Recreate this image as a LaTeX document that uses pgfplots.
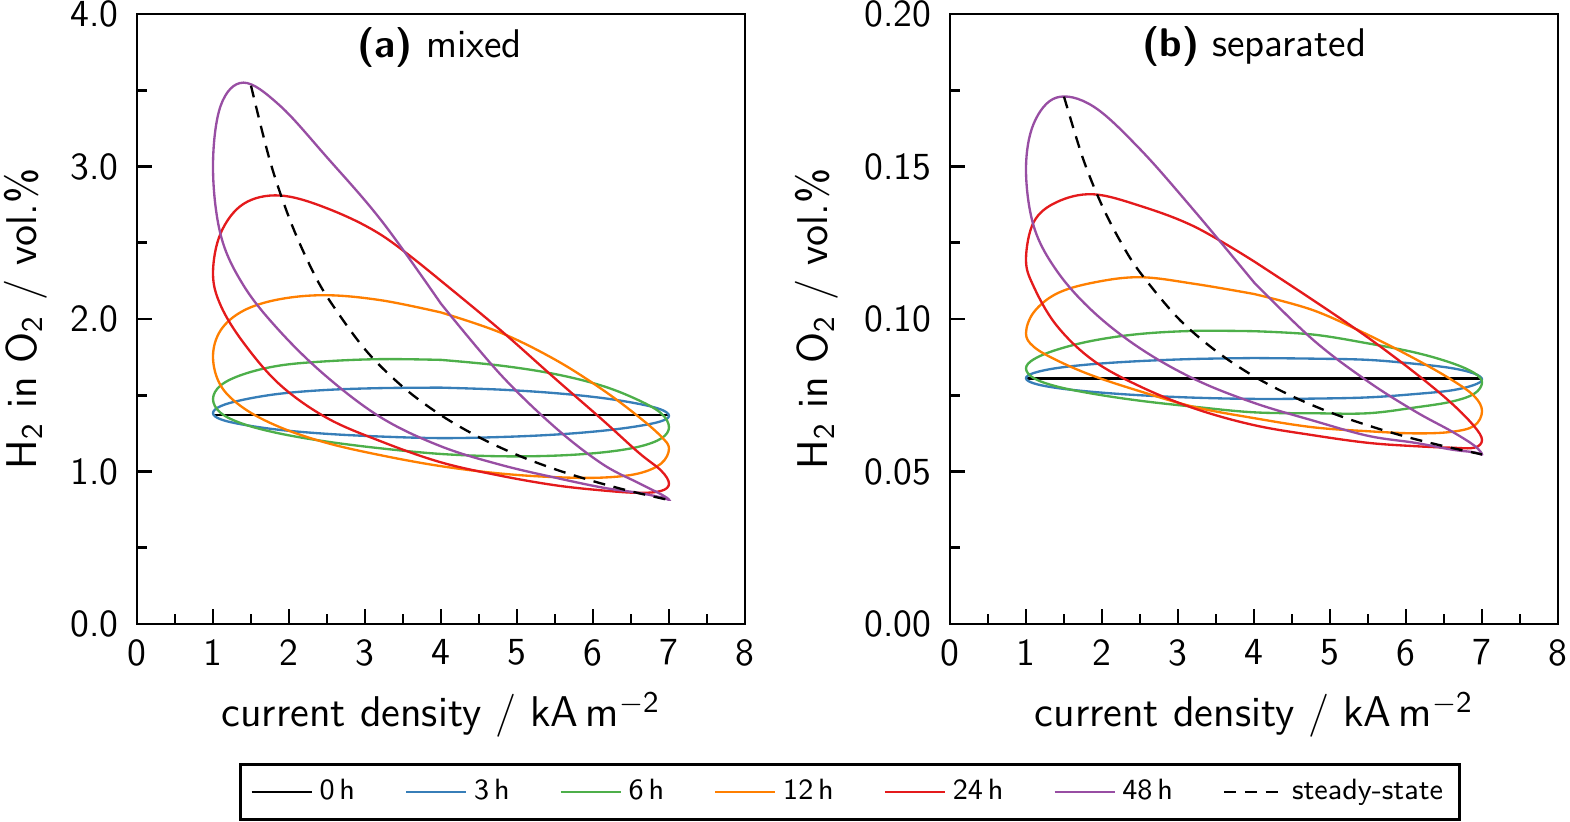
\documentclass[border=0pt]{standalone}
\usepackage{fontspec}
\usepackage{pgfplots}
\pgfplotsset{compat=1.18}
\renewcommand{\familydefault}{\sfdefault}
\definecolor{cblue}{HTML}{377EB8}
\definecolor{cgreen}{HTML}{4DAF4A}
\definecolor{corange}{HTML}{FF7F00}
\definecolor{cred}{HTML}{E41A1C}
\definecolor{cpurple}{HTML}{984EA3}
\pgfplotsset{
  panel/.style={
    scale only axis, width=182.4pt, height=183pt,
    xmin=0, xmax=8, xtick={0,1,...,8}, minor x tick num=1, minor y tick num=1,
    tick align=inside, tick pos=left,
    major tick length=4.5pt, minor tick length=3pt,
    every tick/.append style={black, line width=0.8pt},
    axis line style={line width=0.8pt},
    tick label style={font=\fontsize{11.5}{13}\selectfont},
    xticklabel style={yshift=-1pt},
    yticklabel style={xshift=-2pt},
    /pgf/number format/assume math mode=true,
    scaled y ticks=false,
    label style={font=\fontsize{12.9}{15}\selectfont},
    xlabel={current density / kA\,m\textsuperscript{$-$2}},
    xlabel style={at={(axis description cs:0.5,-0.1684)}, anchor=base},
    ylabel={H\textsubscript{2} in O\textsubscript{2} / vol.\%},
  },
  ln/.style={line width=0.7pt, tension=0.6},
  ss/.style={black, line width=0.7pt, smooth, tension=0.55, dash pattern=on 3.6pt off 2.6pt},
}
\begin{document}
\begin{tikzpicture}
\path[use as bounding box] (-41.1pt,-59.1pt) rectangle (429.9pt,187.2pt);
% ---------------- panel (a) ----------------
\begin{axis}[panel, ymin=0, ymax=4, ytick={0,1,2,3,4},
  yticklabel style={/pgf/number format/.cd,fixed,fixed zerofill,precision=1},
  ylabel style={at={(axis description cs:-0.166,0.5)}, anchor=base},
  legend columns=7,
  legend style={at={(1.173,-0.2279)}, anchor=north, draw=black, line width=0.8pt,
    font=\fontsize{8.8}{10}\selectfont, inner xsep=3pt, inner ysep=2.5pt,
    /tikz/every even column/.append style={column sep=13pt}},
  legend image code/.code={\draw[#1] (0pt,0pt) -- (18pt,0pt);},
]
\addplot[black, ln] coordinates {(1,1.37) (7,1.37)};
\addlegendentry{0\,h}
\addplot[cblue, ln, smooth] coordinates {(4,1.550) (4.776,1.537) (5.5,1.514) (6.121,1.482) (6.598,1.444) (6.898,1.406) (7,1.365) (6.898,1.330) (6.598,1.298) (6.121,1.267) (5.5,1.242) (4.776,1.226) (4,1.219) (3.224,1.229) (2.5,1.247) (1.879,1.273) (1.402,1.307) (1.102,1.342) (1,1.383) (1.102,1.429) (1.402,1.471) (1.879,1.510) (2.5,1.535) (3.224,1.547) (4,1.550)};
\addlegendentry{3\,h}
\addplot[cgreen, ln, smooth] coordinates {(4,1.732) (4.776,1.695) (5.5,1.639) (6.121,1.562) (6.598,1.468) (6.898,1.381) (7,1.29) (6.898,1.217) (6.598,1.162) (6.121,1.125) (5.5,1.104) (4.776,1.100) (4,1.115) (3.224,1.151) (2.5,1.196) (1.879,1.249) (1.402,1.311) (1.102,1.384) (1,1.475) (1.102,1.565) (1.402,1.638) (1.879,1.695) (2.5,1.723) (3.224,1.737) (4,1.732)};
\addlegendentry{6\,h}
\addplot[corange, ln, smooth] coordinates {(4,2.043) (4.776,1.912) (5.5,1.734) (6.121,1.538) (6.598,1.360) (6.898,1.229) (7,1.15) (6.898,1.053) (6.598,0.987) (6.121,0.960) (5.5,0.963) (4.776,0.987) (4,1.035) (3.224,1.105) (2.5,1.187) (1.879,1.291) (1.402,1.416) (1.102,1.563) (1,1.753) (1.102,1.927) (1.402,2.055) (1.879,2.13) (2.5,2.156) (3.224,2.122) (4,2.043)};
\addlegendentry{12\,h}
\addplot[cred, ln, smooth] coordinates {(4,2.25) (4.776,1.93) (5.5,1.61) (6.121,1.34) (6.598,1.125) (6.898,1.005) (7,0.92) (6.898,0.873) (6.598,0.86) (6.121,0.876) (5.5,0.91) (4.776,0.973) (4,1.06) (3.224,1.195) (2.5,1.351) (1.879,1.57) (1.402,1.844) (1.102,2.088) (1,2.30) (1.102,2.564) (1.402,2.755) (1.879,2.81) (2.5,2.726) (3.224,2.548) (4,2.25)};
\addlegendentry{24\,h}
\addplot[cpurple, ln, smooth] coordinates {(4,2.10) (4.776,1.64) (5.5,1.29) (6.121,1.05) (6.598,0.925) (6.898,0.85) (7,0.815) (6.898,0.83) (6.598,0.86) (6.121,0.895) (5.5,0.96) (4.776,1.045) (4,1.165) (3.224,1.35) (2.5,1.62) (1.879,1.92) (1.402,2.22) (1.102,2.55) (1,3.0) (1.102,3.40) (1.402,3.55) (1.879,3.40) (2.5,3.06) (3.224,2.64) (4,2.10)};
\addlegendentry{48\,h}
\addplot[ss] coordinates {(1.5,3.530) (1.75,3.036) (2,2.666) (2.25,2.377) (2.5,2.147) (3,1.801) (3.5,1.554) (4,1.369) (4.5,1.225) (5,1.109) (5.5,1.015) (6,0.937) (6.5,0.870) (7,0.813)};
\addlegendentry{steady-state}
\node[anchor=base, font=\fontsize{12}{14}\selectfont] at (axis description cs:0.498,0.9295) {\textbf{(a)} mixed};
\end{axis}
% ---------------- panel (b) ----------------
\begin{axis}[panel, at={(243.9pt,0pt)}, ymin=0, ymax=0.2, ytick={0,0.05,0.1,0.15,0.2},
  yticklabel style={/pgf/number format/.cd,fixed,fixed zerofill,precision=2},
  ylabel style={at={(axis description cs:-0.2007,0.5)}, anchor=base},
]
\addplot[black, ln] coordinates {(1,0.0805) (7,0.0805)};
\addplot[cblue, ln, smooth] coordinates {(4,0.0872) (4.776,0.0870) (5.5,0.0866) (6.121,0.0853) (6.598,0.0839) (6.898,0.0821) (7,0.0802) (6.898,0.0784) (6.598,0.0766) (6.121,0.0754) (5.5,0.0743) (4.776,0.0739) (4,0.0738) (3.224,0.0742) (2.5,0.0750) (1.879,0.0761) (1.402,0.0774) (1.102,0.0789) (1,0.0806) (1.102,0.0823) (1.402,0.0839) (1.879,0.0852) (2.5,0.0862) (3.224,0.0869) (4,0.0872)};
\addplot[cgreen, ln, smooth] coordinates {(4,0.0960) (4.776,0.0949) (5.5,0.0920) (6.121,0.0890) (6.598,0.0856) (6.898,0.0823) (7,0.0792) (6.898,0.0755) (6.598,0.0729) (6.121,0.0710) (5.5,0.0691) (4.776,0.0691) (4,0.0694) (3.224,0.0712) (2.5,0.0732) (1.879,0.0755) (1.402,0.0779) (1.102,0.0806) (1,0.0838) (1.102,0.0868) (1.402,0.0899) (1.879,0.0929) (2.5,0.0951) (3.224,0.0961) (4,0.0960)};
\addplot[corange, ln, smooth] coordinates {(4,0.1082) (4.776,0.1029) (5.5,0.0948) (6.121,0.0869) (6.598,0.0801) (6.898,0.0747) (7,0.0698) (6.898,0.0650) (6.598,0.0630) (6.121,0.0625) (5.5,0.0632) (4.776,0.0645) (4,0.0675) (3.224,0.0711) (2.5,0.0763) (1.879,0.0814) (1.402,0.0865) (1.102,0.0909) (1,0.0953) (1.102,0.1022) (1.402,0.1083) (1.879,0.1119) (2.5,0.1137) (3.224,0.1115) (4,0.1082)};
\addplot[cred, ln, smooth] coordinates {(4,0.1189) (4.776,0.1062) (5.5,0.0939) (6.121,0.0823) (6.598,0.0724) (6.898,0.0648) (7,0.0603) (6.898,0.0578) (6.598,0.0578) (6.121,0.0583) (5.5,0.0594) (4.776,0.0619) (4,0.0652) (3.224,0.0706) (2.5,0.0779) (1.879,0.0865) (1.402,0.0979) (1.102,0.1106) (1,0.1195) (1.102,0.1318) (1.402,0.1383) (1.879,0.1409) (2.5,0.1371) (3.224,0.1302) (4,0.1189)};
\addplot[cpurple, ln, smooth] coordinates {(4,0.1120) (4.776,0.0932) (5.5,0.0795) (6.121,0.0697) (6.598,0.0632) (6.898,0.0585) (7,0.0556) (6.898,0.0563) (6.598,0.0572) (6.121,0.0594) (5.5,0.0617) (4.776,0.0667) (4,0.0725) (3.224,0.0802) (2.5,0.0904) (1.879,0.1025) (1.402,0.1159) (1.102,0.1304) (1,0.149) (1.102,0.1641) (1.402,0.1726) (1.879,0.1698) (2.5,0.1557) (3.224,0.1352) (4,0.1120)};
\addplot[ss] coordinates {(1.5,0.1729) (1.75,0.1526) (2,0.1372) (2.25,0.1251) (2.5,0.1153) (3,0.1003) (3.5,0.0895) (4,0.0812) (4.5,0.0747) (5,0.0694) (5.5,0.0651) (6,0.0614) (6.5,0.0583) (7,0.0556)};
\node[anchor=base, font=\fontsize{12}{14}\selectfont] at (axis description cs:0.5008,0.9295) {\textbf{(b)} separated};
\end{axis}
\end{tikzpicture}
\end{document}
